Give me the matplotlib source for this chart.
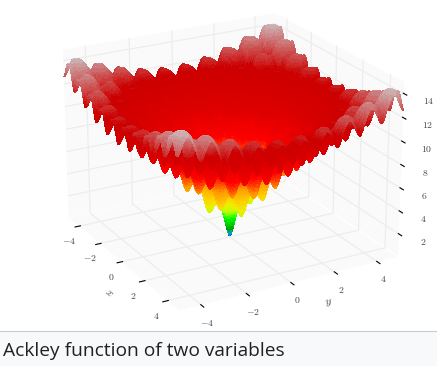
import matplotlib
matplotlib.use('Agg')
import matplotlib.pyplot as plt
from matplotlib.colors import FuncNorm
import numpy as np

plt.rcParams['mathtext.fontset'] = 'cm'

x_ticks = [-4, -2, 0, 2, 4]
y_ticks = [-4, -2, 0, 2, 4]
z_ticks = [2, 4, 6, 8, 10, 12, 14]
caption = 'Ackley function of two variables'

# the surface is the function named in the caption, it can't be read cell by cell
xs = np.linspace(-5, 5, 200)
ys = np.linspace(-5, 5, 200)
X, Y = np.meshgrid(xs, ys)
Z = (-20 * np.exp(-0.2 * np.sqrt(0.5 * (X**2 + Y**2)))
     - np.exp(0.5 * (np.cos(2 * np.pi * X) + np.cos(2 * np.pi * Y))) + np.e + 20)

# colours climb fast near the bottom, most of the bowl ends up red
norm = FuncNorm((lambda v: np.log1p(v / 0.12), lambda v: 0.12 * np.expm1(v)), vmin=0, vmax=14.8)

fig = plt.figure(figsize=(4.37, 3.66), dpi=100)
ax = fig.add_axes([0.015, 0.08, 1.0, 0.98], projection='3d')
ax.patch.set_alpha(0)
ax.set_box_aspect(None, zoom=1.07)
ax.plot_surface(X, Y, Z, cmap='nipy_spectral', norm=norm, rstride=1, cstride=1,
                linewidth=0, antialiased=False)
ax.view_init(elev=22, azim=-29)
ax.set_xlim(-5, 5)
ax.set_ylim(-5, 5)
ax.set_zlim(0, 15)

ax.set_xticks(x_ticks)
ax.set_yticks(y_ticks)
ax.set_zticks(z_ticks)
ax.set_xticklabels([f'${v}$' for v in x_ticks], fontsize=7, color='#444444')
ax.set_yticklabels([f'${v}$' for v in y_ticks], fontsize=7, color='#444444')
ax.set_zticklabels([f'${v}$' for v in z_ticks], fontsize=7, color='#444444')
ax.tick_params(axis='x', pad=-2, length=2)
ax.tick_params(axis='y', pad=-2, length=2)
ax.tick_params(axis='z', pad=1, length=2)

# axis names sit closer to the ticks than set_xlabel allows
fig.text(109 / 437, 1 - 293 / 366, '$x$', fontsize=8, color='#444444', rotation=-40,
         ha='center', va='center')
fig.text(329 / 437, 1 - 303 / 366, '$y$', fontsize=8, color='#444444', rotation=10,
         ha='center', va='center')

for axis in [ax.xaxis, ax.yaxis, ax.zaxis]:
    axis.set_pane_color((0.98, 0.98, 0.98, 1.0))
    axis.pane.set_edgecolor((1, 1, 1, 0))
    axis.line.set_color((1, 1, 1, 0))
    axis._axinfo['grid']['color'] = (0.93, 0.93, 0.93, 1)
    axis._axinfo['grid']['linewidth'] = 0.9

# caption strip under the plot
strip = fig.add_axes([0, 0, 1, 35 / 366])
strip.set_facecolor('#f8f9fa')
strip.set_xticks([])
strip.set_yticks([])
for name, spine in strip.spines.items():
    spine.set_visible(name == 'top')
strip.spines['top'].set_color('#c8ccd1')
strip.text(3 / 437, 0.42, caption, fontsize=13.8, family='Open Sans',
           color='#202122', va='center', ha='left', transform=strip.transAxes)

plt.savefig('out.png', dpi=100)
